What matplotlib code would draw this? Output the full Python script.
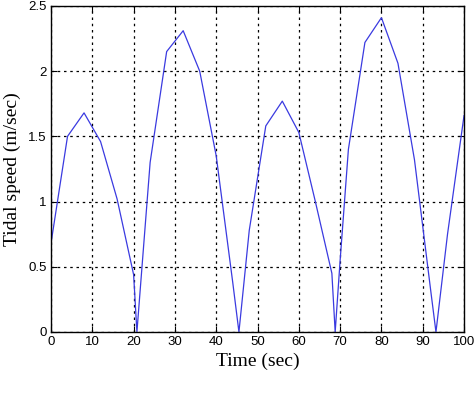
import numpy as np
import matplotlib
matplotlib.use("Agg")
import matplotlib.pyplot as plt

# vertices of the tidal speed trace
time_s = [0, 4, 8, 12, 16, 20, 20.8, 24, 28, 32, 36, 40, 44, 45.5,
          48, 52, 56, 60, 64, 68, 68.8, 70, 72, 76, 80, 84, 88, 92,
          93.2, 96, 100]
speed = [0.68, 1.50, 1.68, 1.46, 1.02, 0.44, 0.0, 1.30, 2.15, 2.31,
         2.00, 1.35, 0.38, 0.0, 0.78, 1.58, 1.77, 1.53, 1.00, 0.45,
         0.0, 0.55, 1.40, 2.22, 2.41, 2.06, 1.32, 0.30, 0.0, 0.75, 1.66]

x_ticks = [0, 10, 20, 30, 40, 50, 60, 70, 80, 90, 100]
y_ticks = [0, 0.5, 1, 1.5, 2, 2.5]
y_ticklabels = ["0", "0.5", "1", "1.5", "2", "2.5"]

fig = plt.figure(figsize=(4.74, 3.95), dpi=100)
ax = fig.add_axes([0.1076, 0.1595, 0.8714, 0.8255])

ax.plot(time_s, speed, color="#3a3ae0", lw=0.9)

ax.set_xlim(0, 100)
ax.set_ylim(0, 2.5)
ax.set_xticks(x_ticks)
ax.set_yticks(y_ticks)
ax.set_yticklabels(y_ticklabels)
ax.grid(True, color="black", linestyle=(0, (2, 3)), linewidth=0.9)
ax.tick_params(direction="in", length=4, labelsize=9.5, pad=3,
               top=True, right=True)
for lab in ax.get_xticklabels() + ax.get_yticklabels():
    lab.set_family("Liberation Sans")
for s in ax.spines.values():
    s.set_linewidth(1.0)

ax.set_xlabel("Time (sec)", family="Liberation Serif", fontsize=14, labelpad=3)
ax.set_ylabel("Tidal speed (m/sec)", family="Liberation Serif", fontsize=14, labelpad=5)

fig.savefig("out.png", dpi=100)
